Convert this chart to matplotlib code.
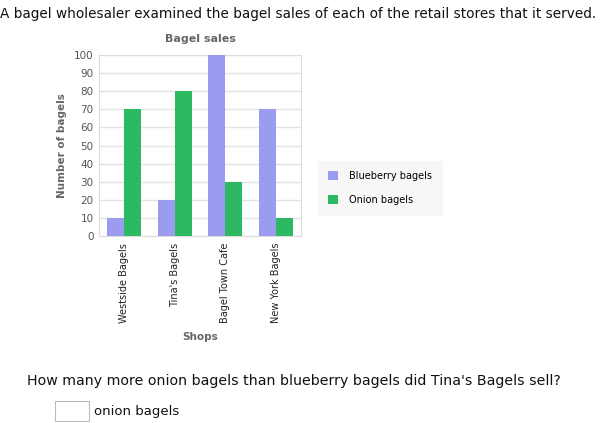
import matplotlib.pyplot as plt
import numpy as np
from matplotlib.patches import Rectangle

shops = ["Westside Bagels", "Tina's Bagels", "Bagel Town Cafe", "New York Bagels"]
blueberry = [10, 20, 100, 70]
onion = [70, 80, 30, 10]
yticks = list(range(0, 101, 10))

fig = plt.figure(figsize=(6, 4.23), dpi=100)
ax = fig.add_axes([0.165, 0.442, 0.337, 0.428])

x = np.arange(len(shops))
w = 0.335
ax.bar(x - w / 2, blueberry, w, color='#9b9bef', label='Blueberry bagels', zorder=3)
ax.bar(x + w / 2, onion, w, color='#2db862', label='Onion bagels', zorder=3)

ax.set_xlim(-0.5, 3.5)
ax.set_ylim(0, 100)
ax.set_yticks(yticks)
ax.set_xticks(x)
ax.set_xticklabels(shops, rotation=90, fontsize=7, color='#222222')
ax.tick_params(axis='y', labelsize=7.5, colors='#555555', length=0, pad=4)
ax.tick_params(axis='x', length=0, pad=5)
ax.grid(axis='y', color='#e4e4e4', linewidth=1, zorder=0)
for s in ax.spines.values():
    s.set_color('#dddddd')

ax.set_title('Bagel sales', fontsize=8, fontweight='bold', color='#666666', pad=9)
ax.set_ylabel('Number of bagels', fontsize=7.5, fontweight='bold', color='#666666', labelpad=5)
ax.set_xlabel('Shops', fontsize=7.5, fontweight='bold', color='#666666', labelpad=6)

leg = ax.legend(loc='center left', bbox_to_anchor=(1.07, 0.265), frameon=True, fontsize=7,
                handlelength=1.0, handleheight=1.0, borderpad=1.0, labelspacing=1.45,
                handletextpad=1.2, fancybox=False, borderaxespad=0.3)
leg.get_frame().set_facecolor('#f5f5f5')
leg.get_frame().set_edgecolor('#f5f5f5')

fig.text(0.0, 0.983, 'A bagel wholesaler examined the bagel sales of each of the retail stores that it served.',
         fontsize=9.8, va='top', ha='left', color='#111111')
fig.text(27 / 600, 0.1, "How many more onion bagels than blueberry bagels did Tina's Bagels sell?",
         fontsize=10.15, va='center', ha='left', color='#111111')
fig.patches.append(Rectangle((55 / 600, 2 / 423), 34 / 600, 20 / 423, transform=fig.transFigure,
                             facecolor='white', edgecolor='#bbbbbb', linewidth=0.8))
fig.text(94 / 600, 12 / 423, 'onion bagels', fontsize=9.5, va='center', ha='left', color='#111111')

fig.savefig('out.png', dpi=100)
